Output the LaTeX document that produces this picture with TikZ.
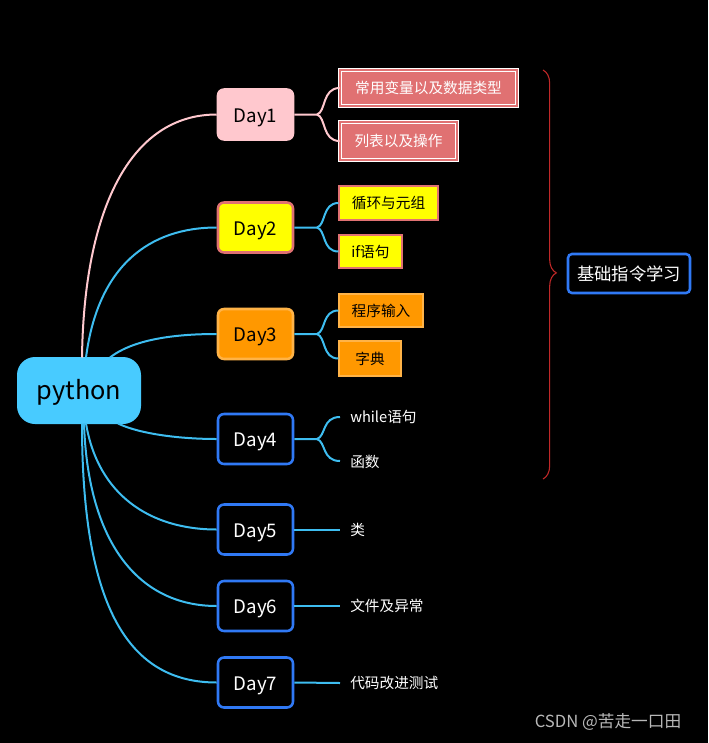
\documentclass[tikz,border=0pt]{standalone}
\usepackage{fontspec}
\newfontfamily\cjk{Noto Sans CJK SC}
\usetikzlibrary{decorations.pathreplacing}
\definecolor{pyfill}{HTML}{48CBFF}
\definecolor{pinkc}{HTML}{FFC8CE}
\definecolor{salmon}{HTML}{E07172}
\definecolor{yel}{HTML}{FFFF00}
\definecolor{org}{HTML}{FF9800}
\definecolor{orgline}{HTML}{FFB347}
\definecolor{bluebd}{HTML}{3079F5}
\definecolor{cyanln}{HTML}{3EBDF0}
\definecolor{bracec}{HTML}{C02828}
\begin{document}
\begin{tikzpicture}[x=0.75pt,y=-0.75pt,
  dayfont/.style={font=\cjk\fontsize{14}{16}\selectfont},
  kidfont/.style={font=\cjk\fontsize{11}{13}\selectfont},
  daybox/.style={rounded corners=4.5pt, minimum width=56.25pt, minimum height=37.5pt, inner sep=0pt, line width=1.9pt, dayfont, text height=12.5pt, text depth=1pt},
  lightday/.style={daybox, text=black},
  darkday/.style={daybox, draw=bluebd, fill=black, text=white},
  kidbox/.style={inner sep=0pt, kidfont},
  redkid/.style={kidbox, fill=salmon, draw=white, double=salmon, double distance=1.6pt, line width=0.6pt, text=white},
  yelkid/.style={kidbox, fill=yel, draw=salmon, line width=0.8pt, text=black},
  orgkid/.style={kidbox, fill=org, draw=orgline, line width=0.8pt, text=black},
  plainkid/.style={kidbox, anchor=west, text=white},
  link/.style={line width=1.5pt, cyanln},
  pinklink/.style={line width=1.5pt, pinkc},
]
\fill[black] (0,0) rectangle (708,743);
\useasboundingbox (0,0) rectangle (708,743);

% root
\node[rounded corners=13.5pt, fill=pyfill, minimum width=93pt, minimum height=50.25pt, inner sep=0pt,
      font=\cjk\fontsize{19}{22}\selectfont, text=black, text height=14.5pt, text depth=1.1pt] (py) at (79,390.5) {python};

% day nodes
\node[lightday, fill=pinkc, draw=pinkc] (d1) at (255.5,114.5) {Day1};
\node[lightday, fill=yel, draw=salmon] (d2) at (255.5,227.5) {Day2};
\node[lightday, fill=org, draw=orgline] (d3) at (255.5,334) {Day3};
\node[darkday] (d4) at (255.5,439) {Day4};
\node[darkday] (d5) at (255.5,529.5) {Day5};
\node[darkday] (d6) at (255.5,606) {Day6};
\node[darkday] (d7) at (255.5,682.5) {Day7};

% start points on root
\coordinate (s1) at (82,357.5);
\coordinate (s2) at (86,357.5);
\coordinate (s3) at (110,357.5);
\coordinate (s4) at (118,423.5);
\coordinate (s5) at (86,423.5);
\coordinate (s6) at (84,423.5);
\coordinate (s7) at (82,423.5);

\draw[pinklink] (s1) .. controls (84,210) and (130,114.5) .. (d1.west);
\draw[link] (s2) .. controls (98,265) and (150,227.5) .. (d2.west);
\draw[link] (s3) .. controls (135,338) and (180,334) .. (d3.west);
\draw[link] (s4) .. controls (140,434) and (180,439) .. (d4.west);
\draw[link] (s5) .. controls (98,495) and (150,529.5) .. (d5.west);
\draw[link] (s6) .. controls (88,545) and (140,606) .. (d6.west);
\draw[link] (s7) .. controls (82,610) and (130,682.5) .. (d7.west);

% children boxes
\node[redkid, minimum width=132.75pt, minimum height=27pt] (c11) at (428.5,88) {常用变量以及数据类型};
\node[redkid, minimum width=87.75pt, minimum height=28.5pt] (c12) at (398.5,141) {列表以及操作};
\node[yelkid, minimum width=74.25pt, minimum height=25.5pt] (c21) at (388.5,203) {循环与元组};
\node[yelkid, minimum width=47.25pt, minimum height=24.75pt] (c22) at (370.5,251.5) {if语句};
\node[orgkid, minimum width=63pt, minimum height=24.75pt] (c31) at (381,310.5) {程序输入};
\node[orgkid, minimum width=46.5pt, minimum height=26.25pt] (c32) at (370,358.5) {字典};
\node[plainkid] (c41) at (350,417) {while语句};
\node[plainkid] (c42) at (350,462) {函数};
\node[plainkid] (c51) at (350,529.5) {类};
\node[plainkid] (c61) at (350,606) {文件及异常};
\node[plainkid] (c71) at (350,683) {代码改进测试};

% child connectors
\coordinate (j1) at (317,114.5);
\coordinate (j2) at (317,227.5);
\coordinate (j3) at (317,334);
\coordinate (j4) at (317,439);
\coordinate (e41) at (340,417);
\coordinate (e42) at (340,461);
\coordinate (e51) at (340,529.5);
\coordinate (e61) at (340,606);
\coordinate (e71) at (340,683);

\draw[pinklink] (d1.east) -- (j1) .. controls (326,112) and (322,88) .. (c11.west);
\draw[pinklink] (j1) .. controls (326,117) and (322,141) .. (c12.west);
\draw[link] (d2.east) -- (j2) .. controls (326,225) and (322,203) .. (c21.west);
\draw[link] (j2) .. controls (326,230) and (322,251.5) .. (c22.west);
\draw[link] (d3.east) -- (j3) .. controls (326,331) and (322,310.5) .. (c31.west);
\draw[link] (j3) .. controls (326,337) and (322,358.5) .. (c32.west);
\draw[link] (d4.east) -- (j4) .. controls (326,436) and (322,417) .. (e41);
\draw[link] (j4) .. controls (326,442) and (322,461) .. (e42);
\draw[link] (d5.east) -- (e51);
\draw[link] (d6.east) -- (e61);
\draw[link] (d7.east) -- (e71);

% brace and summary
\coordinate (bt) at (543,70);
\coordinate (bb) at (543,479);
\draw[bracec, line width=0.8pt, decorate, decoration={brace, amplitude=10pt, aspect=0.496}] (bt) -- (bb);
\node[draw=bluebd, line width=1.9pt, rounded corners=3pt, fill=black, text=white,
      minimum width=91.5pt, minimum height=29.25pt, inner sep=0pt,
      font=\cjk\fontsize{13}{15}\selectfont] (sum) at (629,273.5) {基础指令学习};

% watermark
\node[text=white!72!black, font=\cjk\fontsize{12.5}{14}\selectfont, inner sep=0pt] (wm) at (608,722) {CSDN @苦走一口田};
\end{tikzpicture}
\end{document}
